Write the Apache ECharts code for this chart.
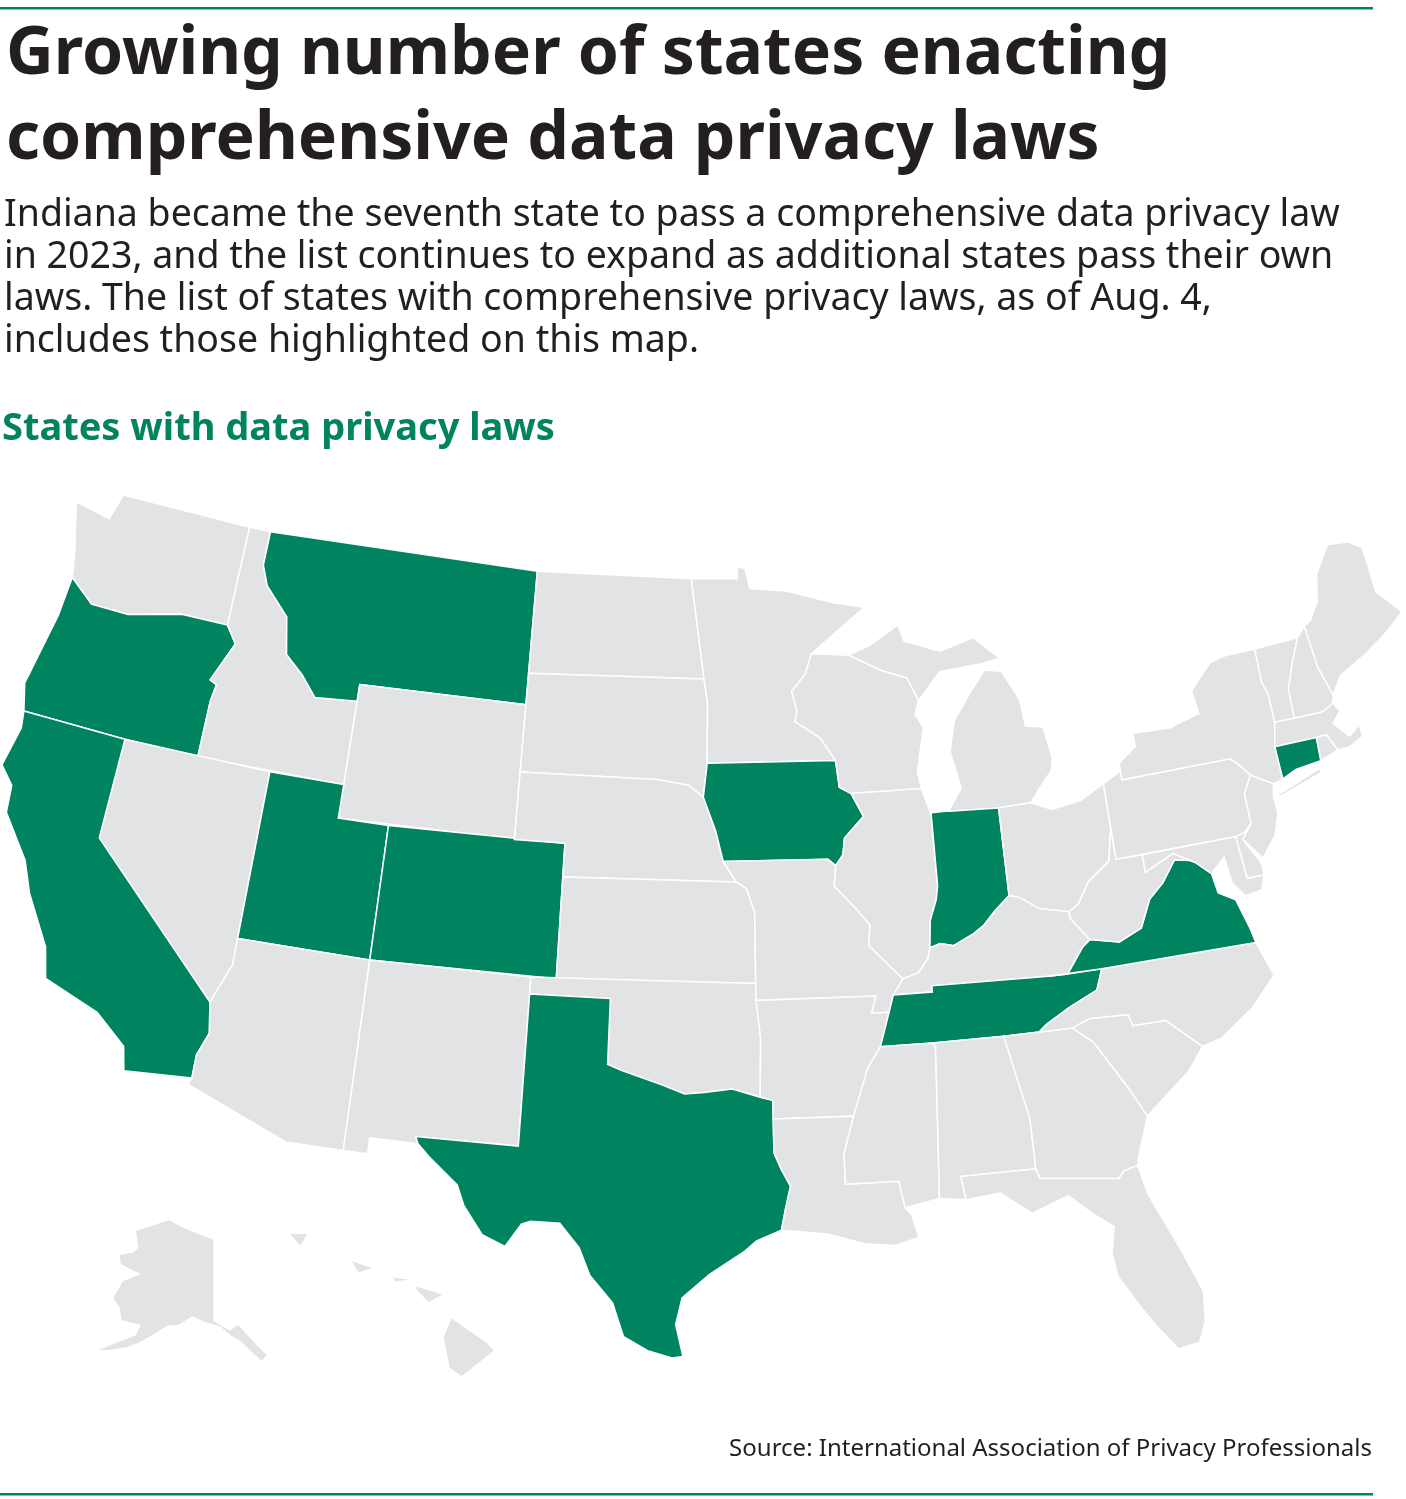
<!DOCTYPE html>
<html><head><meta charset="utf-8">
<script src="https://cdn.jsdelivr.net/npm/echarts@6/dist/echarts.min.js"></script>
<style>html,body{margin:0;padding:0;background:#fff}#c{width:1406px;height:1499px}</style>
</head><body><div id="c"></div>
<script>
// ---- data ----
const lawStates = ["California","Oregon","Montana","Utah","Colorado","Texas","Iowa","Indiana","Tennessee","Virginia","Connecticut"];
const otherStates = ["Washington","Idaho","Nevada","Arizona","New Mexico","Wyoming","North Dakota","South Dakota","Nebraska","Kansas","Oklahoma","Minnesota","Missouri","Arkansas","Louisiana","Wisconsin","Illinois","Michigan","Ohio","Kentucky","Mississippi","Alabama","Georgia","Florida","South Carolina","North Carolina","West Virginia","Maryland","Delaware","Pennsylvania","New Jersey","New York","Vermont","New Hampshire","Maine","Massachusetts","Rhode Island","Alaska","Hawaii"];
const titleLines = ["Growing number of states enacting","comprehensive data privacy laws"];
const subtitleLines = ["Indiana became the seventh state to pass a comprehensive data privacy law","in 2023, and the list continues to expand as additional states pass their own","laws. The list of states with comprehensive privacy laws, as of Aug. 4,","includes those highlighted on this map."];
const legendLabel = "States with data privacy laws";
const sourceText = "Source: International Association of Privacy Professionals";

// ---- simplified state outlines (lon, lat) ----
const shapes = {
"Washington":[[[-124.7,48.4],[-123.1,48.2],[-122.8,49.0],[-117.0,49.0],[-117.0,46.0],[-119.0,46.0],[-121.2,45.6],[-122.8,45.6],[-123.9,46.2],[-124.1,46.9]]],
"Oregon":[[[-124.2,42.0],[-120.0,42.0],[-117.0,42.0],[-117.0,43.7],[-116.9,44.2],[-117.2,44.3],[-116.5,45.5],[-117.0,46.0],[-119.0,46.0],[-121.2,45.6],[-122.8,45.6],[-123.9,46.2],[-124.0,45.0],[-124.5,42.8]]],
"Idaho":[[[-117.0,49.0],[-116.05,49.0],[-116.05,47.98],[-115.7,47.4],[-114.6,46.6],[-114.3,45.5],[-113.5,45.0],[-112.8,44.4],[-111.05,44.5],[-111.05,42.0],[-117.0,42.0],[-117.0,43.7],[-116.9,44.2],[-117.2,44.3],[-116.5,45.5],[-117.0,46.0]]],
"Montana":[[[-116.05,49.0],[-104.05,49.0],[-104.05,45.0],[-111.05,45.0],[-111.05,44.5],[-112.8,44.4],[-113.5,45.0],[-114.3,45.5],[-114.6,46.6],[-115.7,47.4],[-116.05,47.98]]],
"Wyoming":[[[-111.05,45.0],[-104.05,45.0],[-104.05,41.0],[-111.05,41.0]]],
"Nevada":[[[-120.0,42.0],[-114.05,42.0],[-114.05,36.2],[-114.6,35.0],[-120.0,39.0]]],
"California":[[[-124.2,42.0],[-120.0,42.0],[-120.0,39.0],[-114.6,35.0],[-114.4,34.1],[-114.7,33.4],[-114.7,32.7],[-117.1,32.5],[-117.3,33.2],[-118.5,34.0],[-120.6,34.6],[-120.9,35.5],[-122.0,36.9],[-122.5,37.8],[-123.0,38.3],[-123.7,39.0],[-123.8,39.8],[-124.4,40.3],[-124.1,41.5]]],
"Utah":[[[-114.05,42.0],[-111.05,42.0],[-111.05,41.0],[-109.05,41.0],[-109.05,37.0],[-114.05,37.0]]],
"Arizona":[[[-114.05,37.0],[-109.05,37.0],[-109.05,31.33],[-111.07,31.33],[-114.8,32.5],[-114.7,32.7],[-114.7,33.4],[-114.4,34.1],[-114.6,35.0],[-114.05,36.2]]],
"Colorado":[[[-109.05,41.0],[-102.05,41.0],[-102.05,37.0],[-109.05,37.0]]],
"New Mexico":[[[-109.05,37.0],[-103.0,37.0],[-103.0,32.0],[-106.6,32.0],[-106.5,31.8],[-108.2,31.8],[-108.2,31.33],[-109.05,31.33]]],
"North Dakota":[[[-104.05,49.0],[-97.2,49.0],[-96.6,46.0],[-104.05,45.94]]],
"South Dakota":[[[-104.05,45.94],[-96.6,46.0],[-96.45,45.3],[-96.45,43.5],[-96.6,42.5],[-97.2,42.85],[-98.5,43.0],[-104.05,43.0]]],
"Nebraska":[[[-104.05,43.0],[-98.5,43.0],[-97.2,42.85],[-96.6,42.5],[-96.1,41.5],[-95.8,40.6],[-95.3,40.0],[-102.05,40.0],[-102.05,41.0],[-104.05,41.0]]],
"Kansas":[[[-102.05,40.0],[-95.3,40.0],[-94.9,39.8],[-94.6,39.1],[-94.6,37.0],[-102.05,37.0]]],
"Oklahoma":[[[-103.0,37.0],[-94.6,37.0],[-94.45,35.4],[-94.5,33.65],[-95.5,33.9],[-96.5,33.8],[-97.2,33.75],[-98.0,34.0],[-99.5,34.4],[-100.0,34.56],[-100.0,36.5],[-103.0,36.5]]],
"Texas":[[[-106.6,32.0],[-103.0,32.0],[-103.0,36.5],[-100.0,36.5],[-100.0,34.56],[-99.5,34.4],[-98.0,34.0],[-97.2,33.75],[-96.5,33.8],[-95.5,33.9],[-94.5,33.65],[-94.05,33.55],[-94.05,32.0],[-93.8,31.5],[-93.5,31.0],[-93.7,30.3],[-93.85,29.7],[-94.7,29.4],[-95.1,29.1],[-96.3,28.4],[-97.2,27.7],[-97.4,26.9],[-97.15,25.95],[-97.5,25.9],[-98.3,26.1],[-99.1,26.5],[-99.5,27.5],[-100.3,28.3],[-100.7,29.1],[-101.4,29.8],[-102.4,29.8],[-102.7,29.7],[-103.2,29.0],[-104.0,29.3],[-104.7,30.1],[-105.0,30.7],[-106.0,31.4],[-106.5,31.8]]],
"Minnesota":[[[-97.2,49.0],[-95.15,49.0],[-95.15,49.38],[-94.8,49.3],[-94.6,48.7],[-93.0,48.6],[-91.0,48.2],[-89.6,48.0],[-92.0,46.7],[-92.3,46.1],[-92.9,45.6],[-92.7,45.0],[-92.8,44.7],[-91.8,44.2],[-91.2,43.5],[-96.45,43.5],[-96.45,45.3],[-96.6,46.0]]],
"Iowa":[[[-96.45,43.5],[-91.2,43.5],[-91.1,42.7],[-90.64,42.5],[-90.2,41.8],[-91.0,41.2],[-91.1,40.7],[-91.4,40.4],[-91.7,40.6],[-95.8,40.6],[-96.1,41.5],[-96.6,42.5]]],
"Missouri":[[[-95.8,40.6],[-91.7,40.6],[-91.4,40.4],[-91.5,39.8],[-90.7,39.1],[-90.2,38.6],[-90.3,38.0],[-89.5,37.3],[-89.1,36.95],[-89.5,36.5],[-89.7,36.0],[-90.35,36.0],[-90.15,36.5],[-94.6,36.5],[-94.6,39.1],[-94.9,39.8],[-95.3,40.0]]],
"Arkansas":[[[-94.6,36.5],[-90.15,36.5],[-90.35,36.0],[-89.7,36.0],[-90.1,35.0],[-90.6,34.4],[-91.2,33.0],[-94.05,33.0],[-94.05,33.55],[-94.5,33.65],[-94.45,35.4]]],
"Louisiana":[[[-94.05,33.0],[-91.2,33.0],[-91.6,31.9],[-91.6,31.0],[-89.75,31.0],[-89.6,30.2],[-89.4,30.0],[-89.2,29.3],[-90.0,29.1],[-91.0,29.2],[-92.3,29.55],[-93.85,29.7],[-93.7,30.3],[-93.5,31.0],[-93.8,31.5],[-94.05,32.0]]],
"Wisconsin":[[[-92.0,46.7],[-90.4,46.6],[-89.1,46.1],[-88.0,45.8],[-87.6,45.1],[-87.8,44.7],[-87.5,44.3],[-87.9,43.0],[-87.8,42.5],[-90.64,42.5],[-91.1,42.7],[-91.2,43.5],[-91.8,44.2],[-92.8,44.7],[-92.7,45.0],[-92.9,45.6],[-92.3,46.1]]],
"Illinois":[[[-90.64,42.5],[-87.8,42.5],[-87.5,41.7],[-87.5,39.6],[-87.6,39.2],[-87.9,38.6],[-88.0,37.8],[-88.1,37.5],[-88.5,37.1],[-89.1,36.95],[-89.5,37.3],[-90.3,38.0],[-90.2,38.6],[-90.7,39.1],[-91.5,39.8],[-91.4,40.4],[-91.1,40.7],[-91.0,41.2],[-90.2,41.8]]],
"Indiana":[[[-87.5,41.76],[-84.8,41.76],[-84.8,39.1],[-85.4,38.7],[-85.9,38.3],[-86.3,38.1],[-87.1,37.8],[-87.6,37.9],[-88.0,37.8],[-87.9,38.6],[-87.6,39.2],[-87.5,39.6],[-87.5,41.7]]],
"Michigan":[[[-86.8,41.76],[-84.8,41.7],[-83.5,41.73],[-83.1,42.1],[-82.5,42.6],[-82.4,43.0],[-82.6,43.9],[-83.3,44.0],[-83.4,44.8],[-84.0,45.7],[-84.7,45.8],[-85.4,45.2],[-86.2,44.4],[-86.5,43.5],[-86.2,42.4]],[[-90.4,46.6],[-89.1,46.1],[-88.0,45.8],[-87.6,45.1],[-86.6,45.9],[-84.8,46.0],[-84.0,46.1],[-84.6,46.5],[-85.0,46.8],[-86.5,46.5],[-88.0,46.9],[-88.2,47.4],[-89.5,46.85]]],
"Ohio":[[[-84.8,41.7],[-83.5,41.73],[-82.7,41.45],[-81.5,41.6],[-80.52,41.98],[-80.52,40.64],[-80.6,40.4],[-80.8,39.7],[-81.7,39.2],[-82.2,38.6],[-82.6,38.4],[-83.7,38.6],[-84.4,39.0],[-84.8,39.1]]],
"Kentucky":[[[-89.5,36.5],[-88.05,36.5],[-88.05,36.68],[-83.7,36.6],[-82.98,36.59],[-82.3,37.3],[-81.97,37.5],[-82.6,38.2],[-82.6,38.4],[-83.7,38.6],[-84.4,39.0],[-84.8,39.1],[-85.4,38.7],[-85.9,38.3],[-86.3,38.1],[-87.1,37.8],[-87.6,37.9],[-88.0,37.8],[-88.1,37.5],[-88.5,37.1],[-89.1,36.95]]],
"Tennessee":[[[-90.1,35.0],[-88.2,35.0],[-85.6,35.0],[-84.3,35.0],[-84.0,35.2],[-83.1,35.6],[-82.0,36.0],[-81.7,36.6],[-82.98,36.59],[-83.7,36.6],[-88.05,36.68],[-88.05,36.5],[-89.5,36.5],[-89.7,36.0]]],
"Mississippi":[[[-90.1,35.0],[-88.2,35.0],[-88.1,34.9],[-88.4,30.4],[-89.6,30.2],[-89.75,31.0],[-91.6,31.0],[-91.6,31.9],[-91.2,33.0],[-90.6,34.4]]],
"Alabama":[[[-88.2,35.0],[-85.6,35.0],[-85.0,32.5],[-85.0,32.0],[-85.0,31.0],[-87.6,31.0],[-87.5,30.3],[-88.4,30.4],[-88.1,34.9]]],
"Georgia":[[[-85.6,35.0],[-84.3,35.0],[-83.1,35.0],[-82.4,34.5],[-81.4,33.0],[-80.9,32.1],[-81.4,31.0],[-81.5,30.7],[-82.0,30.6],[-82.2,30.4],[-84.9,30.7],[-85.0,31.0],[-85.0,32.0],[-85.0,32.5]]],
"Florida":[[[-87.6,31.0],[-85.0,31.0],[-84.9,30.7],[-82.2,30.4],[-82.0,30.6],[-81.5,30.7],[-81.3,29.8],[-80.5,28.0],[-80.0,26.7],[-80.1,25.8],[-80.4,25.2],[-81.1,25.1],[-81.7,25.9],[-82.1,26.5],[-82.7,27.5],[-82.8,28.2],[-82.6,29.0],[-83.3,29.5],[-84.0,30.1],[-85.3,29.7],[-86.3,30.4],[-87.5,30.3]]],
"South Carolina":[[[-83.1,35.0],[-82.4,35.2],[-81.0,35.15],[-80.9,34.8],[-79.7,34.8],[-78.55,33.85],[-79.2,33.2],[-80.9,32.1],[-81.4,33.0],[-82.4,34.5]]],
"North Carolina":[[[-84.3,35.0],[-84.0,35.2],[-83.1,35.6],[-82.0,36.0],[-81.7,36.6],[-75.9,36.55],[-75.5,35.5],[-76.5,34.7],[-77.8,34.0],[-78.55,33.85],[-79.7,34.8],[-80.9,34.8],[-81.0,35.15],[-82.4,35.2],[-83.1,35.0]]],
"Virginia":[[[-83.7,36.6],[-81.7,36.6],[-75.9,36.55],[-76.0,37.0],[-76.3,37.9],[-76.9,38.2],[-77.0,38.8],[-77.5,39.2],[-77.7,39.3],[-78.3,39.4],[-78.9,38.8],[-79.5,38.4],[-80.0,37.6],[-80.9,37.3],[-81.97,37.5],[-82.3,37.3],[-82.98,36.59]]],
"West Virginia":[[[-82.6,38.4],[-82.6,38.2],[-81.97,37.5],[-80.9,37.3],[-80.0,37.6],[-79.5,38.4],[-78.9,38.8],[-78.3,39.4],[-77.7,39.3],[-78.3,39.6],[-79.48,39.2],[-79.48,39.72],[-80.52,39.72],[-80.52,40.64],[-80.6,40.4],[-80.8,39.7],[-81.7,39.2],[-82.2,38.6]]],
"Maryland":[[[-79.48,39.72],[-75.79,39.72],[-75.7,38.45],[-75.05,38.45],[-75.25,38.03],[-75.9,37.95],[-76.3,38.4],[-76.4,39.2],[-77.0,38.8],[-77.5,39.2],[-77.7,39.3],[-78.3,39.6],[-79.48,39.2]]],
"Delaware":[[[-75.79,39.72],[-75.4,39.8],[-75.5,39.5],[-75.05,38.8],[-75.05,38.45],[-75.7,38.45]]],
"Pennsylvania":[[[-80.52,41.98],[-79.76,42.27],[-79.76,42.0],[-75.35,42.0],[-75.1,41.8],[-74.7,41.4],[-75.1,40.9],[-75.1,40.0],[-75.4,39.8],[-75.79,39.72],[-80.52,39.72]]],
"New Jersey":[[[-74.7,41.4],[-73.9,41.0],[-74.0,40.7],[-74.0,40.1],[-74.3,39.5],[-74.95,38.93],[-75.55,39.6],[-75.1,40.0],[-75.1,40.9]]],
"New York":[[[-79.76,42.0],[-79.76,42.5],[-79.0,42.9],[-79.0,43.3],[-77.5,43.25],[-76.2,43.5],[-76.3,44.2],[-75.3,44.9],[-74.7,45.0],[-73.35,45.0],[-73.4,44.0],[-73.25,43.6],[-73.27,42.75],[-73.5,42.05],[-73.49,41.05],[-73.9,41.0],[-74.7,41.4],[-75.1,41.8],[-75.35,42.0]],[[-74.0,40.6],[-72.0,41.1],[-71.9,41.0],[-73.7,40.6]]],
"Vermont":[[[-73.35,45.0],[-71.5,45.01],[-72.0,44.3],[-72.4,43.6],[-72.46,42.73],[-73.27,42.75],[-73.25,43.6],[-73.4,44.0]]],
"New Hampshire":[[[-71.5,45.01],[-71.1,45.3],[-71.0,44.0],[-70.7,43.1],[-70.8,42.87],[-71.3,42.7],[-72.46,42.73],[-72.4,43.6],[-72.0,44.3]]],
"Maine":[[[-71.1,45.3],[-70.8,45.4],[-70.3,45.9],[-70.0,46.7],[-69.2,47.45],[-68.3,47.35],[-67.8,47.07],[-67.8,45.7],[-67.0,44.9],[-68.0,44.4],[-69.0,44.0],[-70.2,43.6],[-70.7,43.1],[-71.0,44.0]]],
"Massachusetts":[[[-73.5,42.05],[-73.27,42.75],[-72.46,42.73],[-71.3,42.7],[-70.8,42.87],[-70.6,42.6],[-71.0,42.3],[-70.5,41.8],[-70.0,42.05],[-70.0,41.7],[-70.6,41.5],[-71.1,41.5],[-71.38,42.02],[-71.8,42.02]]],
"Rhode Island":[[[-71.8,42.02],[-71.38,42.02],[-71.1,41.5],[-71.86,41.32]]],
"Connecticut":[[[-73.5,42.05],[-71.8,42.02],[-71.86,41.32],[-72.9,41.25],[-73.7,41.0],[-73.49,41.1]]],
"Alaska":[[[-141,69.6],[-141,60.3],[-137.5,59.2],[-135.5,59.8],[-133.5,58.4],[-131,56.5],[-130,55.9],[-131.5,55.2],[-133.5,56.5],[-135.5,57.8],[-137.5,58.5],[-139.8,59.6],[-143,60],[-146,60.6],[-149,59.5],[-151.5,59.2],[-154,58],[-156.5,56.8],[-159,55.8],[-162,55],[-164.8,54.4],[-162,55.8],[-158,57.5],[-157.5,58.7],[-161.8,58.6],[-163,59.9],[-165.3,60.7],[-164.5,63],[-161,64.3],[-166.5,64.6],[-168,65.6],[-164.5,66.5],[-163.7,67.1],[-166.2,68.9],[-163,69.8],[-156.8,71.3],[-152,70.8],[-146,70.2]]],
"Hawaii":[[[-155.85,20.27],[-155.0,19.7],[-154.8,19.5],[-155.6,18.9],[-155.9,19.1],[-156.05,19.8]],[[-156.7,21.0],[-156.0,20.8],[-156.4,20.6],[-156.7,20.9]],[[-157.3,21.2],[-156.7,21.15],[-157.2,21.08]],[[-158.3,21.6],[-157.7,21.4],[-158.1,21.28]],[[-159.8,22.2],[-159.3,22.2],[-159.5,21.88]]]
};

const features = Object.keys(shapes).map(n => ({type:"Feature",properties:{name:n},
  geometry:{type:"MultiPolygon",coordinates:shapes[n].map(r=>[r.concat([r[0]])])}}));
echarts.registerMap("US", {type:"FeatureCollection", features});

const R = Math.PI/180;
function albers(lon, lat, lon0, lat0, p1, p2){
  const n=(Math.sin(p1*R)+Math.sin(p2*R))/2, C=Math.cos(p1*R)**2+2*n*Math.sin(p1*R);
  const r0=Math.sqrt(C-2*n*Math.sin(lat0*R))/n, r=Math.sqrt(C-2*n*Math.sin(lat*R))/n, t=n*(lon-lon0)*R;
  return [r*Math.sin(t), r0-r*Math.cos(t)];
}
const L48 = (lo,la)=>albers(lo,la,-96,37.5,29.5,45.5);
const AK = (lo,la)=>albers(lo,la,-141,50,55,65);
const HI = (lo,la)=>albers(lo,la,-157,0,8,18);
function proj(c){
  const lo=c[0], la=c[1];
  let p;
  if (la>50 && lo<-129){ const a=AK(lo,la), b=AK(-152,63), o=L48(-114.0,26.3); p=[o[0]+0.26*(a[0]-b[0]), o[1]+0.26*(a[1]-b[1])]; }
  else if (la<23 && lo<-150){ const a=HI(lo,la), b=HI(-157.3,20.6), o=L48(-106.8,27.0); p=[o[0]+1.3*(a[0]-b[0]), o[1]+1.3*(a[1]-b[1])]; }
  else p=L48(lo,la);
  return [p[0], -p[1]];
}

const chart = echarts.init(document.getElementById("c"), null, {renderer:"canvas"});
const GREEN="#00835f", INK="#231f20", F="'Noto Sans', sans-serif";
const graphics = [
  {type:"rect",shape:{x:0,y:7,width:1373,height:2.5},style:{fill:GREEN}},
  {type:"rect",shape:{x:0,y:1493,width:1373,height:2.5},style:{fill:GREEN}}
];
titleLines.forEach((t,i)=>graphics.push({type:"text",left:6,top:22+i*85,style:{text:t,font:"bold 66px "+F,fill:INK}}));
subtitleLines.forEach((t,i)=>graphics.push({type:"text",left:4,top:196+i*42,style:{text:t,font:"37.5px "+F,fill:INK}}));
graphics.push({type:"text",left:2,top:410,style:{text:legendLabel,font:"bold 38px "+F,fill:GREEN}});
graphics.push({type:"text",right:34,top:1437,style:{text:sourceText,font:"24px "+F,fill:INK}});

chart.setOption({
  animation:false,
  graphic:graphics,
  series:[{
    type:"map", map:"US", projection:{project:proj, unproject:p=>p},
    left:2, right:4, top:495, bottom:122,
    label:{show:false}, emphasis:{disabled:true}, select:{disabled:true},
    itemStyle:{areaColor:"#e2e3e4", borderColor:"#ffffff", borderWidth:1.5},
    data: lawStates.map(n=>({name:n,value:1,itemStyle:{areaColor:GREEN}}))
      .concat(otherStates.map(n=>({name:n,value:0})))
  }]
});
</script></body></html>
